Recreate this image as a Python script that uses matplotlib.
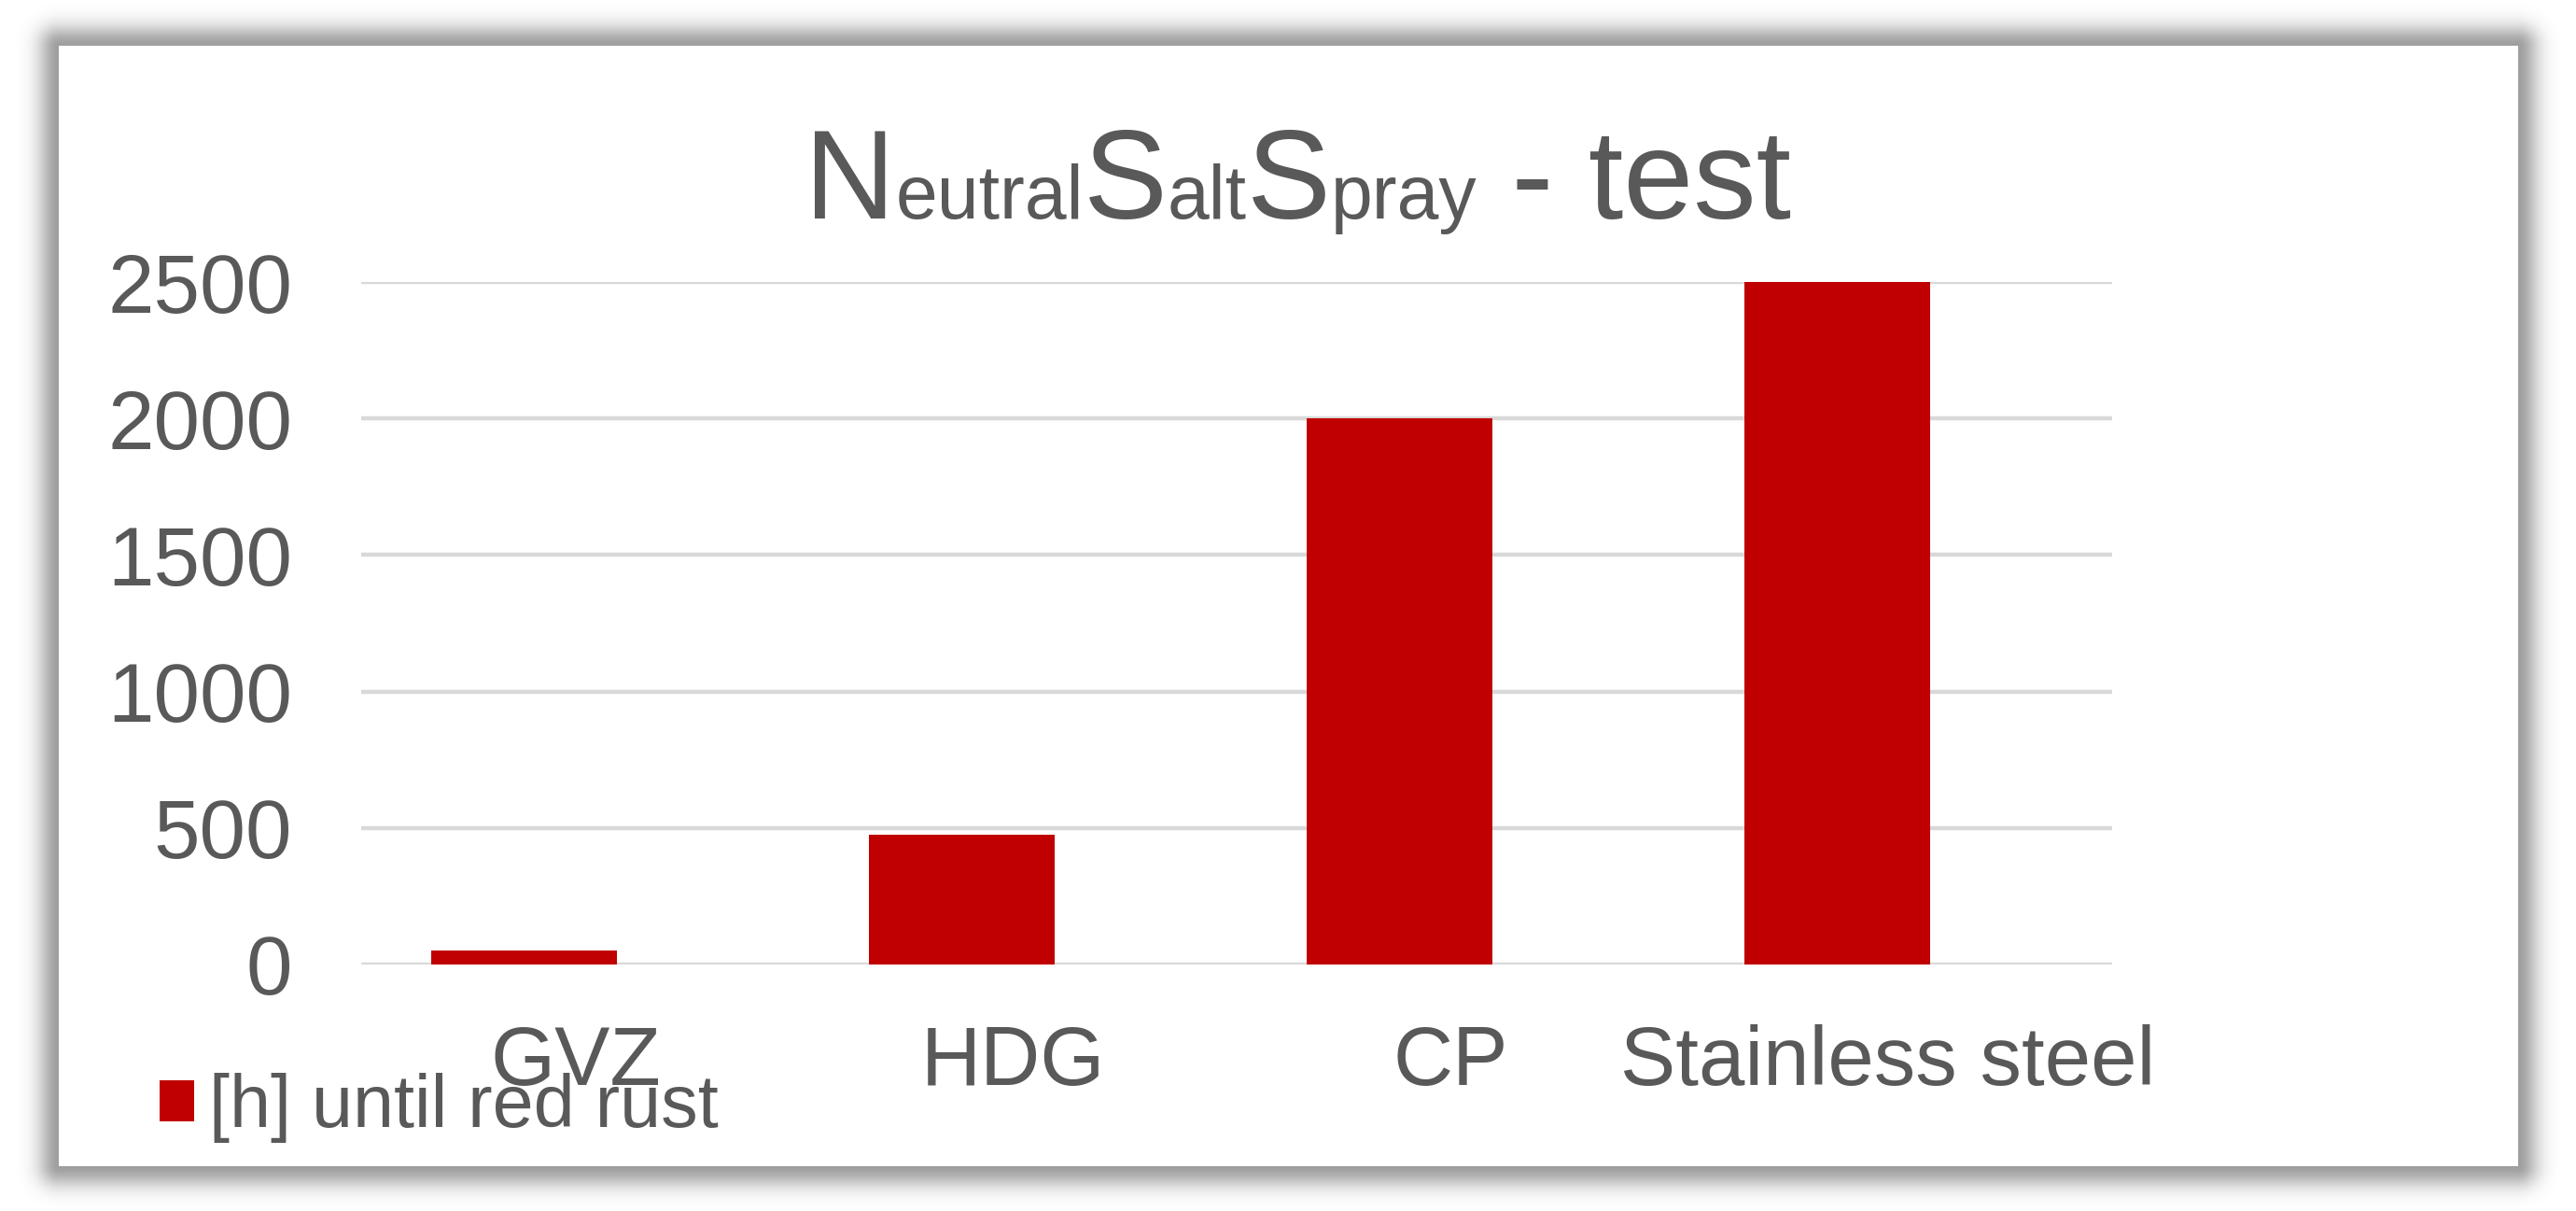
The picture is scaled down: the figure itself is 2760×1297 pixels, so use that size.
import numpy as np
import matplotlib
matplotlib.use("Agg")
import matplotlib.pyplot as plt
import matplotlib.transforms as mtransforms
from matplotlib.text import Annotation
from matplotlib.patches import Patch

plt.rcParams['font.family'] = ['Liberation Sans', 'DejaVu Sans']

# data
categories = ["GVZ", "HDG", "CP", "Stainless steel"]
hours = [50, 475, 2000, 2500]
series_name = "[h] until red rust"
yticks = [0, 500, 1000, 1500, 2000, 2500]

txt_color = "#595959"
bar_color = "#c00000"
grid_color = "#d9d9d9"

W, H = 2760, 1297
dpi = 100
fig = plt.figure(figsize=(W / dpi, H / dpi), dpi=dpi)

# drop shadow frame as a background image
bg = fig.add_axes([0, 0, 1, 1])
bg.set_axis_off()
x0, x1, y0, y1 = 63, 2697, 49, 1248
xx = np.arange(W)[None, :]
yy = np.arange(H)[:, None]
dx = np.maximum(np.maximum(x0 - xx, xx - x1), 0)
dy = np.maximum(np.maximum(y0 - yy, yy - y1), 0)
d = np.sqrt(dx ** 2 + dy ** 2)
shade = 1.0 - 0.38 * np.exp(-(d / 22.0) ** 2)
shade[(dx == 0) & (dy == 0)] = 1.0
bg.imshow(shade, cmap="gray", vmin=0, vmax=1, extent=[0, W, H, 0],
          aspect="auto", interpolation="bilinear")
bg.set_xlim(0, W)
bg.set_ylim(H, 0)

# main axes
left, right = 387, 2263
zero_y, top_y = 1033, 302
ax = fig.add_axes([left / W, (H - zero_y) / H, (right - left) / W,
                   (zero_y - top_y) / H])
ax.patch.set_alpha(0)

x = np.arange(len(categories))
ax.bar(x, hours, width=0.424, color=bar_color, zorder=3)
ax.set_ylim(0, 2500)
ax.set_xlim(-0.373, 3.629)

ax.set_yticks(yticks)
ax.set_yticklabels([str(v) for v in yticks])
ax.tick_params(axis="y", length=0, pad=53, labelsize=64, labelcolor=txt_color)
ax.set_xticks([])
ax.yaxis.grid(True, color=grid_color, linewidth=3.2, zorder=0)
for s in ax.spines.values():
    s.set_visible(False)

# category labels (shifted right a bit as in the original)
off = mtransforms.ScaledTranslation(0.55, -1.29, fig.dpi_scale_trans)
for i, c in enumerate(categories):
    ax.text(x[i], 0, c, transform=ax.get_xaxis_transform() + off,
            ha="center", va="baseline", fontsize=64, color=txt_color)

# title with mixed letter sizes, each piece chained to the previous one
title_parts = ["N", "eutral", "S", "alt", "S", "pray", " - test"]
title_sizes = [97, 58, 97, 58, 97, 58, 97]
base_y = H - 234
chain = fig.text(862 / W, base_y / H, title_parts[0], fontsize=title_sizes[0],
                 color=txt_color, ha="left", va="baseline")
for s, fs in zip(title_parts[1:], title_sizes[1:]):
    chain = fig.add_artist(Annotation(
        s, xy=(1, base_y), xycoords=(chain, "figure pixels"),
        ha="left", va="baseline", fontsize=fs, color=txt_color,
        annotation_clip=False))

# legend
handle = Patch(facecolor=bar_color, edgecolor="none")
fig.legend([handle], [series_name], loc="lower left",
           bbox_to_anchor=(171 / W, (H - 1224) / H), frameon=False,
           fontsize=57, handlelength=0.47, handleheight=0.47,
           handletextpad=0.2, borderpad=0, borderaxespad=0,
           labelcolor=txt_color)

fig.savefig("out.png", dpi=dpi)
